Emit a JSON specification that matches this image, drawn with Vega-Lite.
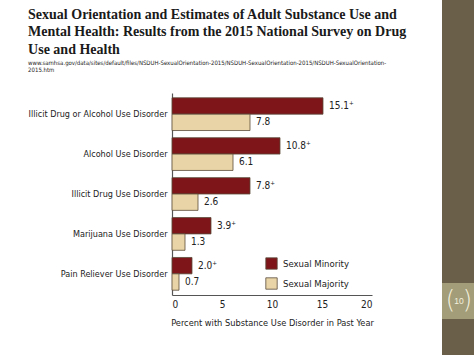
{
  "$schema": "https://vega.github.io/schema/vega-lite/v6.json",
  "padding": {"left": 28, "top": 0, "right": 0, "bottom": 0},
  "spacing": 35,
  "background": "#ffffff",
  "config": {"view": {"stroke": null}},
  "datasets": {
    "slide": [{"slide": "10"}]
  },
  "hconcat": [
    {
      "width": 200,
      "height": 295,
      "title": {
        "text": ["Sexual Orientation and Estimates of Adult Substance Use and", "Mental Health: Results from the 2015 National Survey on Drug", "Use and Health"],
        "subtitle": ["www.samhsa.gov/data/sites/default/files/NSDUH-SexualOrientation-2015/NSDUH-SexualOrientation-2015/NSDUH-SexualOrientation-", "2015.htm"],
        "anchor": "start",
        "frame": "bounds",
        "offset": -73,
        "font": "Liberation Serif",
        "fontSize": 14,
        "fontWeight": "bold",
        "lineHeight": 17.5,
        "color": "#1a1a1a",
        "subtitleFont": "DejaVu Sans Condensed",
        "subtitleFontSize": 6,
        "subtitleLineHeight": 7.5,
        "subtitleColor": "#222222",
        "subtitlePadding": 3
      },
      "data": {
        "values": [
          {"disorder": "Illicit Drug or Alcohol Use Disorder", "group": "Sexual Minority", "pct": 15.1, "label": "15.1⁺"},
          {"disorder": "Illicit Drug or Alcohol Use Disorder", "group": "Sexual Majority", "pct": 7.8, "label": "7.8"},
          {"disorder": "Alcohol Use Disorder", "group": "Sexual Minority", "pct": 10.8, "label": "10.8⁺"},
          {"disorder": "Alcohol Use Disorder", "group": "Sexual Majority", "pct": 6.1, "label": "6.1"},
          {"disorder": "Illicit Drug Use Disorder", "group": "Sexual Minority", "pct": 7.8, "label": "7.8⁺"},
          {"disorder": "Illicit Drug Use Disorder", "group": "Sexual Majority", "pct": 2.6, "label": "2.6"},
          {"disorder": "Marijuana Use Disorder", "group": "Sexual Minority", "pct": 3.9, "label": "3.9⁺"},
          {"disorder": "Marijuana Use Disorder", "group": "Sexual Majority", "pct": 1.3, "label": "1.3"},
          {"disorder": "Pain Reliever Use Disorder", "group": "Sexual Minority", "pct": 2.0, "label": "2.0⁺"},
          {"disorder": "Pain Reliever Use Disorder", "group": "Sexual Majority", "pct": 0.7, "label": "0.7"}
        ]
      },
      "encoding": {
        "y": {
          "field": "disorder",
          "type": "nominal",
          "sort": null,
          "scale": {"range": [93, 295], "paddingInner": 0.18, "paddingOuter": 0.12},
          "axis": {
            "title": null,
            "ticks": false,
            "labelFont": "DejaVu Sans Condensed",
            "labelFontSize": 9,
            "labelColor": "#222222",
            "labelPadding": 5,
            "labelLimit": 200,
            "domainColor": "#555555",
            "domainWidth": 1.2
          }
        },
        "yOffset": {"field": "group", "type": "nominal", "sort": ["Sexual Minority", "Sexual Majority"]},
        "x": {
          "field": "pct",
          "type": "quantitative",
          "scale": {"domain": [0, 20]},
          "axis": {
            "title": "Percent with Substance Use Disorder in Past Year",
            "values": [0, 5, 10, 15, 20],
            "grid": false,
            "ticks": false,
            "labelFont": "DejaVu Sans Condensed",
            "labelFontSize": 10,
            "labelColor": "#222222",
            "labelPadding": 4,
            "titleFont": "DejaVu Sans Condensed",
            "titleFontSize": 9.2,
            "titleFontWeight": "normal",
            "titleColor": "#222222",
            "titlePadding": 9,
            "domainColor": "#555555",
            "domainWidth": 1.2
          }
        }
      },
      "layer": [
        {
          "mark": {"type": "bar", "stroke": "#5b4b3b", "strokeWidth": 0.8},
          "encoding": {
            "color": {
              "field": "group",
              "type": "nominal",
              "scale": {"domain": ["Sexual Minority", "Sexual Majority"], "range": ["#7d1519", "#e8d4a6"]},
              "legend": {
                "title": null,
                "orient": "none",
                "legendX": 93,
                "legendY": 257,
                "symbolType": "square",
                "symbolSize": 130,
                "symbolStrokeColor": "#5b4b3b",
                "symbolStrokeWidth": 0.8,
                "labelFont": "DejaVu Sans Condensed",
                "labelFontSize": 9.5,
                "labelColor": "#222222",
                "rowPadding": 5,
                "labelOffset": 5
              }
            }
          }
        },
        {
          "mark": {"type": "text", "align": "left", "dx": 6, "font": "DejaVu Sans Condensed", "fontSize": 10, "color": "#222222"},
          "encoding": {"text": {"field": "label"}}
        }
      ]
    },
    {
      "spacing": 0,
      "vconcat": [
        {
          "width": 34,
          "height": 283,
          "view": {"fill": "#6a6049", "stroke": null},
          "data": {"name": "slide"},
          "mark": {"type": "rect", "color": "#6a6049"},
          "encoding": {}
        },
        {
          "width": 34,
          "height": 36,
          "view": {"fill": "#a39d79", "stroke": null},
          "data": {"name": "slide"},
          "layer": [
            {
              "mark": {"type": "text", "text": "(  )", "font": "DejaVu Sans", "fontSize": 24, "fontWeight": 200, "color": "#f4f1de", "baseline": "middle"},
              "encoding": {}
            },
            {
              "mark": {"type": "text", "font": "Liberation Sans", "fontSize": 8.5, "color": "#f4f1de", "baseline": "middle"},
              "encoding": {"text": {"field": "slide"}}
            }
          ]
        },
        {
          "width": 34,
          "height": 36,
          "view": {"fill": "#6a6049", "stroke": null},
          "data": {"name": "slide"},
          "mark": {"type": "rect", "color": "#6a6049"},
          "encoding": {}
        }
      ]
    }
  ]
}
